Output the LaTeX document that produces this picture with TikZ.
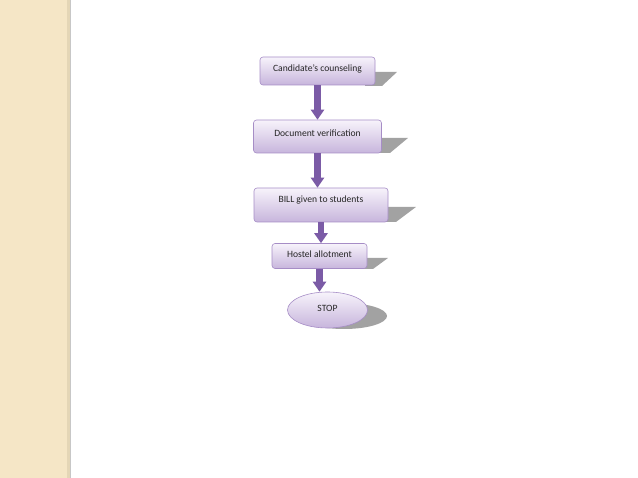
\documentclass[tikz,border=0pt]{standalone}
\usepackage{fontspec}
\setmainfont{Carlito}
\usepackage{tikz}
\usetikzlibrary{arrows.meta}
\usetikzlibrary{positioning}
\usetikzlibrary{calc}
\usetikzlibrary{shapes.geometric}

\definecolor{StripBeige}{HTML}{F5E6C6}
\definecolor{StripEdge}{HTML}{E4D6B6}
\definecolor{BoxTop}{HTML}{F7F3FB}
\definecolor{BoxBottom}{HTML}{C7B5DC}
\definecolor{BoxLine}{HTML}{A68DC6}
\definecolor{FlowPurple}{HTML}{7B5BA6}
\definecolor{ShadowGray}{HTML}{A2A2A2}

\tikzset{
  stepbox/.style={draw=BoxLine,line width=0.6pt,rounded corners=3pt,
    top color=BoxTop,bottom color=BoxBottom,font=\fontsize{9.6}{11}\selectfont,
    text=black!85,inner sep=0pt},
  stopbox/.style={stepbox,ellipse,rounded corners=0pt},
  flow/.style={draw=FlowPurple,line width=6.5pt,
    -{Triangle[width=13pt,length=10pt]}},
  boxshadow/.style={fill=ShadowGray,draw=none}
}

\begin{document}
\begin{tikzpicture}[x=1pt,y=-1pt]
\useasboundingbox (0,0) rectangle (638,478);
% left strip
\fill[StripBeige] (0,0) rectangle (70,478);
\fill[StripEdge] (67,0) rectangle (70,478);
\draw[black!22,line width=0.8pt] (70.5,0) -- (70.5,478);
% shadows
\fill[boxshadow] (365,72) -- (397,72) -- (382,86) -- (365,86) -- cycle;
\fill[boxshadow] (370,138) -- (408,138) -- (390,153) -- (370,153) -- cycle;
\fill[boxshadow] (375,207) -- (416,207) -- (396,222) -- (375,222) -- cycle;
\fill[boxshadow] (355,258) -- (388,258) -- (373,269) -- (355,269) -- cycle;
\fill[boxshadow] (344,316) ellipse (43 and 13);
% boxes
\node[stepbox,minimum width=115,minimum height=28,text depth=5pt] (b1) at (317.5,71) {Candidate’s counseling};
\node[stepbox,minimum width=128,minimum height=33,text depth=6pt] (b2) at (317.5,136.5) {Document verification};
\node[stepbox,minimum width=134,minimum height=34,text depth=11pt] (b3) at (321,205) {BILL given to students};
\node[stepbox,minimum width=95,minimum height=25,text depth=3pt] (b4) at (319.5,256) {Hostel allotment};
\node[stopbox,minimum width=80,minimum height=36,text depth=4pt] (stop) at (327.5,310) {STOP};
% arrows
\draw[flow] (b1.south) -- (b1.south |- b2.north);
\draw[flow] (b2.south) -- (b2.south |- b3.north);
\draw[flow] (b3.south) -- (b3.south |- b4.north);
\draw[flow] (b4.south) -- (b4.south |- stop.north);
\end{tikzpicture}
\end{document}
